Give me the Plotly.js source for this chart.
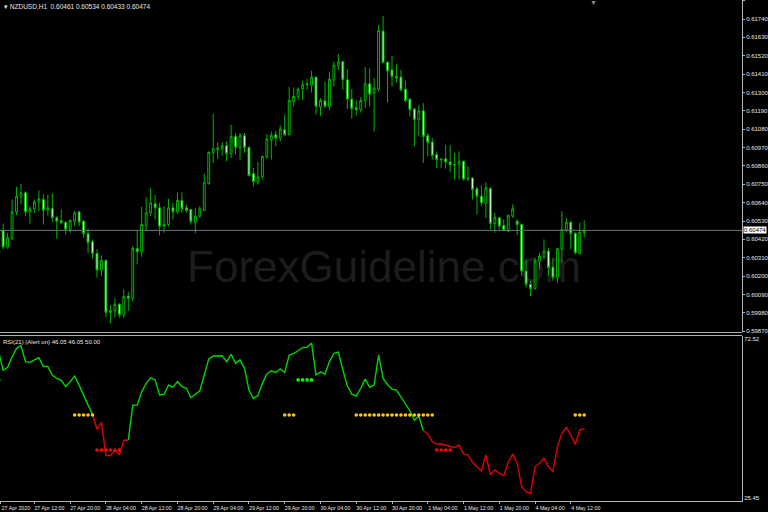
<!DOCTYPE html>
<html><head><meta charset="utf-8">
<script src="https://cdn.plot.ly/plotly-3.0.1.min.js"></script>
<style>html,body{margin:0;padding:0;background:#000;}#chart{width:768px;height:512px;}</style>
</head><body><div id="chart"></div>
<script>
const symbol = 'NZDUSD,H1';
const rsiTitle = 'RSI(21) (Alert on)';

const open = [0.60330,0.60474,0.60374,0.60424,0.60585,0.60678,0.60699,0.60585,0.60603,0.60645,
0.60659,0.60595,0.60605,0.60549,0.60533,0.60521,0.60480,0.60529,0.60585,0.60529,
0.60454,0.60406,0.60336,0.60236,0.60294,0.59982,0.59991,0.60031,0.59968,0.60081,
0.60066,0.60366,0.60346,0.60503,0.60579,0.60633,0.60609,0.60499,0.60509,0.60609,
0.60585,0.60653,0.60609,0.60599,0.60523,0.60559,0.60593,0.60754,0.60938,0.60957,
0.60963,0.60981,0.60934,0.61037,0.60971,0.61041,0.60971,0.60814,0.60762,0.60794,
0.60914,0.61017,0.61047,0.61027,0.61077,0.61047,0.61246,0.61276,0.61322,0.61346,
0.61344,0.61392,0.61213,0.61250,0.61216,0.61376,0.61461,0.61485,0.61376,0.61260,
0.61208,0.61196,0.61252,0.61352,0.61296,0.61320,0.61668,0.61481,0.61435,0.61395,
0.61392,0.61320,0.61260,0.61201,0.61137,0.61190,0.61041,0.61003,0.60928,0.60902,
0.60902,0.60884,0.60868,0.60868,0.60888,0.60782,0.60788,0.60723,0.60678,0.60635,
0.60724,0.60515,0.60549,0.60503,0.60469,0.60559,0.60529,0.60509,0.60230,0.60151,
0.60125,0.60290,0.60316,0.60350,0.60254,0.60191,0.60360,0.60474,0.60523,0.60456,
0.60336,0.60461];

const high = [0.60491,0.60515,0.60460,0.60659,0.60735,0.60754,0.60708,0.60619,0.60659,0.60713,
0.60689,0.60689,0.60695,0.60559,0.60599,0.60529,0.60539,0.60589,0.60589,0.60535,
0.60484,0.60420,0.60360,0.60324,0.60300,0.60026,0.60067,0.60037,0.60121,0.60105,
0.60380,0.60472,0.60615,0.60672,0.60729,0.60686,0.60639,0.60619,0.60663,0.60639,
0.60699,0.60702,0.60629,0.60603,0.60609,0.60619,0.60814,0.60947,0.61173,0.61001,
0.61001,0.61007,0.61107,0.61057,0.61057,0.61057,0.60977,0.60848,0.60884,0.60922,
0.61051,0.61067,0.61071,0.61101,0.61167,0.61332,0.61330,0.61330,0.61371,0.61380,
0.61431,0.61395,0.61266,0.61365,0.61422,0.61485,0.61531,0.61489,0.61440,0.61320,
0.61252,0.61272,0.61451,0.61446,0.61386,0.61704,0.61758,0.61485,0.61519,0.61469,
0.61435,0.61371,0.61266,0.61207,0.61226,0.61236,0.61057,0.61027,0.60947,0.60908,
0.60987,0.60984,0.60938,0.60947,0.60892,0.60858,0.60792,0.60735,0.60742,0.60762,
0.60735,0.60579,0.60555,0.60539,0.60569,0.60629,0.60543,0.60515,0.60300,0.60171,
0.60310,0.60340,0.60420,0.60370,0.60310,0.60370,0.60589,0.60549,0.60529,0.60463,
0.60520,0.60534];

const low = [0.60305,0.60360,0.60364,0.60416,0.60565,0.60629,0.60559,0.60515,0.60579,0.60589,
0.60509,0.60563,0.60523,0.60424,0.60509,0.60450,0.60460,0.60499,0.60499,0.60430,
0.60340,0.60305,0.60191,0.60201,0.59952,0.59918,0.59952,0.59952,0.59952,0.59991,
0.60051,0.60270,0.60316,0.60469,0.60559,0.60539,0.60444,0.60460,0.60496,0.60539,
0.60573,0.60579,0.60579,0.60509,0.60456,0.60549,0.60589,0.60748,0.60878,0.60902,
0.60922,0.60888,0.60908,0.60928,0.60894,0.60938,0.60798,0.60738,0.60748,0.60778,
0.60902,0.60898,0.60977,0.61007,0.61037,0.61041,0.61216,0.61256,0.61256,0.61316,
0.61300,0.61167,0.61161,0.61207,0.61196,0.61336,0.61435,0.61316,0.61201,0.61143,
0.61161,0.61180,0.61207,0.61216,0.61067,0.61306,0.61475,0.61240,0.61336,0.61360,
0.61306,0.61240,0.61156,0.60977,0.61037,0.60878,0.60917,0.60898,0.60848,0.60848,
0.60844,0.60823,0.60778,0.60778,0.60772,0.60768,0.60659,0.60569,0.60619,0.60549,
0.60480,0.60460,0.60480,0.60469,0.60463,0.60549,0.60444,0.60201,0.60131,0.60081,
0.60121,0.60241,0.60300,0.60201,0.60171,0.60161,0.60281,0.60460,0.60360,0.60330,
0.60330,0.60433];

const close = [0.60468,0.60374,0.60430,0.60585,0.60678,0.60699,0.60585,0.60603,0.60645,0.60663,
0.60595,0.60609,0.60549,0.60529,0.60520,0.60480,0.60533,0.60579,0.60523,0.60454,
0.60400,0.60336,0.60236,0.60294,0.59982,0.59994,0.60031,0.59968,0.60077,0.60066,
0.60366,0.60346,0.60509,0.60579,0.60639,0.60609,0.60499,0.60511,0.60609,0.60585,
0.60653,0.60603,0.60593,0.60526,0.60559,0.60603,0.60759,0.60941,0.60963,0.60968,
0.60981,0.60934,0.61037,0.60971,0.61041,0.60971,0.60802,0.60766,0.60794,0.60916,
0.61021,0.61043,0.61027,0.61081,0.61047,0.61252,0.61276,0.61320,0.61346,0.61352,
0.61392,0.61216,0.61252,0.61216,0.61380,0.61463,0.61483,0.61376,0.61260,0.61202,
0.61196,0.61252,0.61352,0.61290,0.61326,0.61670,0.61479,0.61429,0.61395,0.61386,
0.61316,0.61252,0.61196,0.61137,0.61190,0.61037,0.61001,0.60922,0.60898,0.60898,
0.60883,0.60866,0.60865,0.60888,0.60782,0.60786,0.60718,0.60678,0.60639,0.60729,
0.60515,0.60553,0.60499,0.60475,0.60563,0.60603,0.60509,0.60230,0.60151,0.60125,
0.60290,0.60320,0.60350,0.60251,0.60191,0.60364,0.60480,0.60523,0.60454,0.60340,
0.60463,0.60474];

const rsi = [68.0,62.8,63.6,66.6,69.0,69.8,65.2,65.0,65.7,66.3,
63.8,63.8,61.4,60.4,59.9,58.1,59.5,61.1,58.5,55.5,
52.8,50.2,45.9,47.9,38.4,38.4,40.0,38.6,42.8,42.8,
52.8,52.8,56.6,59.0,60.6,60.0,55.7,55.9,58.5,57.9,
59.5,58.1,57.6,54.9,55.9,56.9,61.4,66.0,66.8,66.9,
66.9,65.2,67.3,64.7,65.7,63.3,57.1,54.7,55.5,59.0,
61.7,62.6,62.1,63.1,62.1,67.1,67.5,68.3,69.2,69.3,
70.5,61.4,62.3,61.6,65.2,67.6,67.9,62.8,58.3,55.9,
55.4,57.6,60.2,57.9,58.5,67.1,60.4,58.7,57.3,57.1,
55.1,53.3,51.2,48.5,49.7,45.5,44.6,42.4,41.7,41.7,
41.4,40.9,40.7,41.4,38.8,38.6,36.5,35.2,34.0,38.6,
32.9,34.3,33.3,32.7,36.5,38.8,36.4,29.5,28.1,27.6,
35.2,36.2,37.6,35.2,33.8,40.9,44.7,46.4,44.3,41.6,
45.7,46.05];

// bar spans (inclusive) where the RSI line is drawn red
const redSpans = [[21, 29], [95, 131]];
// alert dots: bar indices and levels
const yellowDotBars = [17,18,19,20,21,64,65,66,80,81,82,83,84,85,86,87,88,89,90,91,92,93,94,95,96,97,129,130,131];
const greenDotBars = [0,67,68,69,70];
const redDotBars = [22,23,24,25,26,27,98,99,100,101];
const yellowLevel = 50, greenLevel = 60, redLevel = 40;
const rsiMin = 25.45, rsiMax = 72.52;

const priceTickLabels = ['0.59870','0.59980','0.60090','0.60200','0.60310','0.60420','0.60530','0.60640','0.60750','0.60860','0.60970','0.61080','0.61190','0.61300','0.61410','0.61520','0.61630','0.61740','0.61850'];
const timeTickBars = [0.5,8,16,24,32,40,48,56,64,72,80,88,96,104,112,120,128];
const timeTickLabels = ['27 Apr 2020','27 Apr 12:00','27 Apr 20:00','28 Apr 04:00','28 Apr 12:00','28 Apr 20:00','29 Apr 04:00','29 Apr 12:00','29 Apr 20:00','30 Apr 04:00','30 Apr 12:00','30 Apr 20:00','1 May 04:00','1 May 12:00','1 May 20:00','4 May 04:00','4 May 12:00'];

const idx = open.map((_, i) => i);
const last = open.length - 1;
const isRed = i => redSpans.some(([a, b]) => i >= a && i <= b);
const isGreen = i => !redSpans.some(([a, b]) => i > a && (i < b || b === last));

const FONT = 'Liberation Sans, Arial, sans-serif';
const AX = '#b4b4b4';
const TXT = '#e6e6e6';

const traces = [
  {
    type: 'candlestick', x: idx, open: open, high: high, low: low, close: close,
    xaxis: 'x', yaxis: 'y', whiskerwidth: 0, hoverinfo: 'skip',
    increasing: {line: {color: '#00b400', width: 1}, fillcolor: '#000000'},
    decreasing: {line: {color: '#00b400', width: 1}, fillcolor: '#e4ffe4'}
  },
  {
    type: 'scatter', mode: 'lines', x: idx, y: rsi.map((v, i) => isGreen(i) ? v : null),
    xaxis: 'x', yaxis: 'y2', line: {color: '#00d400', width: 1.4}, connectgaps: false, hoverinfo: 'skip'
  },
  {
    type: 'scatter', mode: 'lines', x: idx, y: rsi.map((v, i) => isRed(i) ? v : null),
    xaxis: 'x', yaxis: 'y2', line: {color: '#e00000', width: 1.4}, connectgaps: false, hoverinfo: 'skip'
  },
  {
    type: 'scatter', mode: 'markers', x: yellowDotBars, y: yellowDotBars.map(() => yellowLevel),
    xaxis: 'x', yaxis: 'y2', marker: {color: '#ffc800', size: 3.6}, hoverinfo: 'skip'
  },
  {
    type: 'scatter', mode: 'markers', x: greenDotBars, y: greenDotBars.map(() => greenLevel),
    xaxis: 'x', yaxis: 'y2', marker: {color: '#00ff00', size: 3.6}, hoverinfo: 'skip'
  },
  {
    type: 'scatter', mode: 'markers', x: redDotBars, y: redDotBars.map(() => redLevel),
    xaxis: 'x', yaxis: 'y2', marker: {color: '#ff0000', size: 3.6}, hoverinfo: 'skip'
  }
];

const tickFont = {family: FONT, size: 6, color: TXT};
const f5 = v => v.toFixed(5);

const layout = {
  width: 768, height: 512,
  paper_bgcolor: '#000000', plot_bgcolor: '#000000',
  margin: {l: 0, r: 26, t: 0, b: 10},
  showlegend: false,
  boxgap: 0.4,
  xaxis: {
    range: [0.3, 166.3], anchor: 'y2', showgrid: false, zeroline: false,
    rangeslider: {visible: false}, automargin: false,
    tickmode: 'array', tickvals: timeTickBars, ticktext: timeTickLabels, tickangle: 0,
    ticks: 'outside', ticklen: 2, tickcolor: AX, showline: true, linecolor: AX, linewidth: 1,
    tickfont: {family: FONT, size: 5.3, color: TXT}, ticklabelshift: 15, ticklabelstandoff: 0, fixedrange: true
  },
  yaxis: {
    domain: [0.3386, 1], range: [0.59865, 0.61854], side: 'right', anchor: 'x',
    showgrid: false, zeroline: false, automargin: false,
    tickmode: 'array', tickvals: priceTickLabels.map(Number), ticktext: priceTickLabels,
    ticks: 'outside', ticklen: 2, tickcolor: AX, showline: true, linecolor: AX, linewidth: 1,
    tickfont: tickFont, fixedrange: true
  },
  yaxis2: {
    domain: [0.002, 0.3307], range: [rsiMin, rsiMax], side: 'right', anchor: 'x',
    showgrid: false, zeroline: false, automargin: false,
    tickmode: 'array', tickvals: [rsiMax - 0.9, rsiMin + 0.9], ticktext: [rsiMax.toFixed(2), rsiMin.toFixed(2)],
    ticks: '', showline: true, linecolor: AX, linewidth: 1,
    tickfont: tickFont, fixedrange: true
  },
  shapes: [
    {type: 'rect', xref: 'paper', yref: 'paper', x0: 0.42, x1: 0.615, y0: 0.44, y1: 0.516,
     line: {width: 0}, fillcolor: 'rgba(0,0,0,0)', layer: 'below',
     label: {text: 'ForexGuideline.com', textposition: 'middle center',
             font: {family: FONT, size: 44, color: '#1c1c1c'}}},
    {type: 'line', xref: 'paper', yref: 'y', x0: 0, x1: 1, y0: close[last], y1: close[last],
     line: {color: '#6a7580', width: 1}},
    {type: 'line', xref: 'paper', yref: 'paper', x0: 0, x1: 1, y0: 0.3376, y1: 0.3376,
     line: {color: AX, width: 1}},
    {type: 'line', xref: 'paper', yref: 'paper', x0: 0, x1: 1, y0: 0.3317, y1: 0.3317,
     line: {color: AX, width: 1}}
  ],
  annotations: [
    {xref: 'paper', yref: 'paper', x: 0, y: 1, xanchor: 'left', yanchor: 'top', xshift: 2, yshift: -1,
     showarrow: false, align: 'left',
     text: '\u25BE ' + symbol + '  ' + f5(open[last]) + ' ' + f5(high[last]) + ' ' + f5(low[last]) + ' ' + f5(close[last]),
     font: {family: FONT, size: 6.5, color: TXT}},
    {xref: 'paper', yref: 'paper', x: 0, y: 0.3307, xanchor: 'left', yanchor: 'top', xshift: 1, yshift: -1,
     showarrow: false, align: 'left',
     text: rsiTitle + ' ' + rsi[last].toFixed(2) + ' ' + rsi[last].toFixed(2) + ' ' + yellowLevel.toFixed(2),
     font: {family: FONT, size: 6, color: TXT}},
    {xref: 'paper', yref: 'y', x: 1, y: close[last], xanchor: 'left', yanchor: 'middle', xshift: 1,
     showarrow: false, text: f5(close[last]), bgcolor: '#ffffff', borderpad: 0,
     font: {family: FONT, size: 6, color: '#000000'}},
    {xref: 'x', yref: 'paper', x: 133, y: 1, xanchor: 'center', yanchor: 'top', yshift: 3,
     showarrow: false, text: '\u25BC', font: {family: FONT, size: 7, color: '#8a8a8a'}}
  ]
};

Plotly.newPlot('chart', traces, layout, {staticPlot: true, displayModeBar: false});
</script>
</body></html>
